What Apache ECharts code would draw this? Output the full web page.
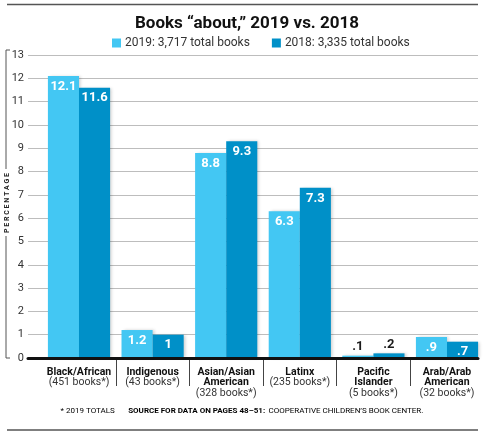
<!DOCTYPE html>
<html><head><meta charset="utf-8">
<script src="https://cdn.jsdelivr.net/npm/echarts@6/dist/echarts.min.js"></script>
<style>html,body{margin:0;padding:0;background:#fff}#c{width:500px;height:436px}</style>
</head><body><div id="c"></div>
<script>
var categories = ['Black/African', 'Indigenous', 'Asian/Asian\nAmerican', 'Latinx', 'Pacific\nIslander', 'Arab/Arab\nAmerican'];
var bookCounts = ['451 books*', '43 books*', '328 books*', '235 books*', '5 books*', '32 books*'];
var values2019 = [12.1, 1.2, 8.8, 6.3, 0.1, 0.9];
var values2018 = [11.6, 1.0, 9.3, 7.3, 0.2, 0.7];
var seriesNames = ['2019: 3,717 total books', '2018: 3,335 total books'];
var yTicks = [0, 13, 1];

var FONT = 'Roboto';
var C19 = '#43c7f3', C18 = '#0090c8';
function fmt(v){ return String(v).replace(/^0\./, '.'); }
function items(arr){
  return arr.map(function(v){
    if (v < 0.5) return {value: v, label: {position: 'top', color: '#1a1a1a', distance: 2}};
    return v;
  });
}
var sepData = categories.slice(1);

var chart = echarts.init(document.getElementById('c'), null, {renderer: 'canvas'});
chart.setOption({
  animation: false,
  textStyle: {fontFamily: FONT},
  title: {
    text: 'Books \u201cabout,\u201d 2019 vs. 2018',
    left: 242, top: 10, textAlign: 'center',
    textStyle: {fontFamily: FONT, fontSize: 17, fontWeight: 'bold', color: '#111'}
  },
  legend: {
    top: 32, left: 107,
    icon: 'rect', itemWidth: 9, itemHeight: 9, itemGap: 22,
    textStyle: {fontFamily: FONT, fontSize: 12, color: '#333', padding: [0,0,0,-1]},
    data: seriesNames
  },
  grid: [
    {left: 28, right: 22, top: 55, bottom: 78},
    {left: 42.2, right: 16.2, top: 55, bottom: 78},
    {left: 115.8, right: 89.8, top: 55, bottom: 78}
  ],
  xAxis: [
    {gridIndex: 0, type: 'category', data: [''], axisLine: {show: true, lineStyle: {color: '#111', width: 3}}, axisTick: {show: false}, axisLabel: {show: false}, z: 5},
    {gridIndex: 1, type: 'category', data: categories, axisLine: {show: false}, axisTick: {show: false},
      axisLabel: {
        margin: 9, interval: 0,
        formatter: function(v, i){
          var parts = v.split('\n').map(function(p){ return '{b|' + p + '}'; });
          return parts.join('\n') + '\n{n|(' + bookCounts[i] + ')}';
        },
        rich: {
          b: {fontFamily: FONT, fontSize: 10.5, fontWeight: 'bold', color: '#111', lineHeight: 10.5},
          n: {fontFamily: FONT, fontSize: 10.5, color: '#333', lineHeight: 10.5}
        }
      }
    },
    {gridIndex: 2, type: 'category', data: sepData, boundaryGap: false, offset: 9,
      axisLine: {show: false}, axisLabel: {show: false},
      axisTick: {show: true, interval: 0, length: 28, lineStyle: {color: '#444', width: 1}}
    }
  ],
  yAxis: [
    {gridIndex: 0, type: 'value', min: yTicks[0], max: yTicks[1], interval: yTicks[2],
      axisLine: {show: false}, axisTick: {show: false},
      axisLabel: {margin: 4, fontFamily: FONT, fontSize: 11, color: '#333'},
      splitLine: {lineStyle: {color: '#bdbdbd', width: 1}}
    },
    {gridIndex: 1, type: 'value', min: yTicks[0], max: yTicks[1], interval: yTicks[2], show: false, splitLine: {show: false}},
    {gridIndex: 2, type: 'value', min: yTicks[0], max: yTicks[1], show: false, splitLine: {show: false}}
  ],
  series: [
    {name: seriesNames[0], type: 'bar', xAxisIndex: 1, yAxisIndex: 1, data: items(values2019),
      barGap: '0%', barCategoryGap: '15.5%', z: 3,
      itemStyle: {color: C19, shadowColor: 'rgba(0,0,0,0.18)', shadowBlur: 3, shadowOffsetX: 2},
      label: {show: true, position: 'insideTop', distance: 4, formatter: function(p){ return fmt(p.value); },
        fontFamily: FONT, fontSize: 13, fontWeight: 'bold', color: '#fff'}
    },
    {name: seriesNames[1], type: 'bar', xAxisIndex: 1, yAxisIndex: 1, data: items(values2018),
      barGap: '0%', barCategoryGap: '15.5%', z: 3,
      itemStyle: {color: C18, shadowColor: 'rgba(0,0,0,0.18)', shadowBlur: 3, shadowOffsetX: 2},
      label: {show: true, position: 'insideTop', distance: 4, formatter: function(p){ return fmt(p.value); },
        fontFamily: FONT, fontSize: 13, fontWeight: 'bold', color: '#fff'}
    }
  ],
  color: [C19, C18],
  graphic: [
    {type: 'line', shape: {x1: 7, y1: 4.5, x2: 478, y2: 4.5}, style: {stroke: '#555', lineWidth: 1.5}},
    {type: 'line', shape: {x1: 7, y1: 430, x2: 478, y2: 430}, style: {stroke: '#555', lineWidth: 1.5}},
    {type: 'polyline', shape: {points: [[10, 50], [6, 50], [6, 169]]}, style: {stroke: '#555', lineWidth: 1, fill: null}},
    {type: 'polyline', shape: {points: [[6, 236], [6, 358], [10, 358]]}, style: {stroke: '#555', lineWidth: 1, fill: null}},
    {type: 'text', x: 7, y: 203, rotation: Math.PI / 2,
      style: {text: 'P E R C E N T A G E', fontFamily: FONT, fontSize: 7, fontWeight: 'bold', fill: '#222', align: 'center', verticalAlign: 'middle'}},
    {type: 'text', x: 242, y: 411,
      style: {
        text: '{n|* 2019 TOTALS}    {b|SOURCE FOR DATA ON PAGES 48\u201351:} {n|COOPERATIVE CHILDREN\u2019S BOOK CENTER.}',
        align: 'center', verticalAlign: 'middle',
        rich: {
          n: {fontFamily: FONT, fontSize: 8, color: '#222'},
          b: {fontFamily: FONT, fontSize: 8, fontWeight: 'bold', color: '#111'}
        }
      }
    }
  ]
});
</script></body></html>
